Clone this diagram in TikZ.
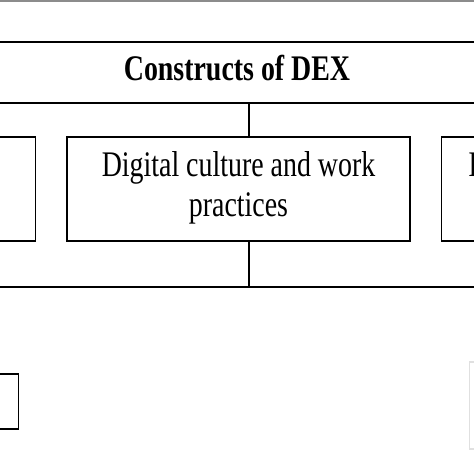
\documentclass[tikz,border=0pt]{standalone}
\usepackage{fontspec}
\setmainfont{Liberation Serif}
\usepackage{graphicx}
\usetikzlibrary{positioning}
\newcommand{\narrowtext}[1]{\scalebox{0.775}[1]{\begin{tabular}{@{}c@{}}#1\end{tabular}}}

\begin{document}
\begin{tikzpicture}
		[x=1pt,y=1pt,
		box/.style={draw,line width=1.3pt,inner sep=0pt,minimum width=343pt,minimum height=104pt,font=\fontsize{36}{40}\selectfont},
		faint/.style={draw=black!12,line width=1.3pt,inner sep=0pt,minimum width=343pt,minimum height=87pt},
		link/.style={line width=1.3pt}]
		\useasboundingbox (0,0) rectangle (474,474);
		\clip (0,0) rectangle (474,474);
		\fill[black!45] (0,472.3) rectangle (474,474);
		\node[box,minimum width=540pt,minimum height=61pt,font=\fontsize{36}{40}\selectfont\bfseries] (title) at (237,401.5) {\narrowtext{Constructs of DEX}};
		\node[box] (culture) at (238.5,285) {\narrowtext{Digital culture and work\\practices}};
		\node[box,left=30pt of culture] (leftbox) {};
		\node[box,right=30pt of culture] (rightbox) {};
		\node[anchor=base west,inner sep=0pt,font=\fontsize{36}{40}\selectfont] (righttext) at (468.5,297) {\scalebox{0.775}[1]{Digital}};
		\node[box,minimum height=55pt,anchor=east] (lowleft) at (19,72.5) {};
		\node[faint,anchor=west] (lowright) at (468.5,68.5) {};
		\coordinate (spine) at (249,0);
		\coordinate (rail west) at (-20,187);
		\coordinate (rail east) at (494,187);
		\draw[link] (title.south -| spine) -- (culture.north -| spine);
		\draw[link] (culture.south -| spine) -- (spine |- rail west);
		\draw[link] (rail west) -- (rail east);
\end{tikzpicture}
\end{document}
